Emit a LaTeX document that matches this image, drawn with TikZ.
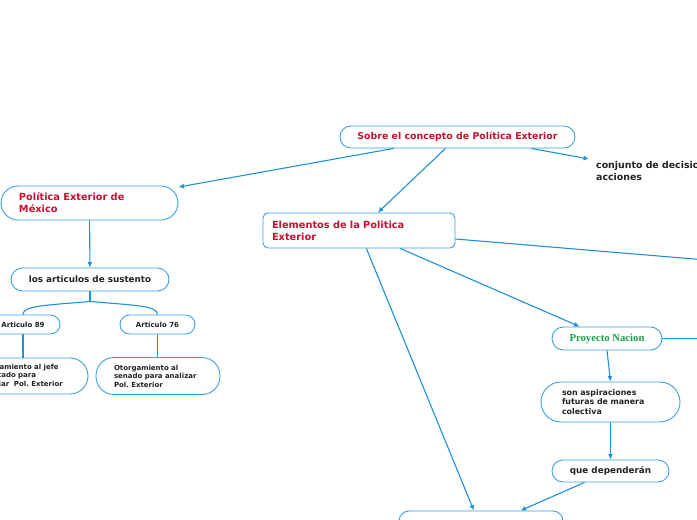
\documentclass[tikz,border=0pt]{standalone}
\usepackage{fontspec}
\setmainfont{DejaVu Sans}
\newfontfamily\nacfont{Liberation Serif}
\usetikzlibrary{arrows.meta}
\definecolor{boxblue}{HTML}{3C9FE2}
\definecolor{linkblue}{HTML}{1E91DB}
\definecolor{titlered}{HTML}{C8102E}
\definecolor{nacgreen}{HTML}{17A34A}
\definecolor{textgray}{HTML}{222222}
\frenchspacing

\begin{document}
\begin{tikzpicture}[x=1pt,y=-1pt,
  pill/.style={draw=boxblue,line width=0.9pt,fill=white,inner sep=0pt,rounded corners=#1},
  title/.style={text=titlered,font=\fontsize{9.8}{12}\selectfont\bfseries},
  mid/.style={text=textgray,font=\fontsize{8.8}{10.5}\selectfont\bfseries},
  small/.style={text=textgray,font=\fontsize{7}{8.5}\selectfont\bfseries},
  link/.style={draw=linkblue,line width=1.1pt},
  arrow/.style={link,-{Latex[length=5.5pt,width=5pt]}}]

\fill[white] (0,0) rectangle (697,520);
\useasboundingbox (0,0) rectangle (697,520);
\clip (0,0) rectangle (697,520);

\node[pill=11pt,minimum width=235pt,minimum height=22pt,text=titlered,font=\fontsize{9.4}{11}\selectfont\bfseries] (sobre) at (457.5,137) {Sobre el concepto de Política Exterior};
\node[anchor=north west,inner xsep=7pt,inner ysep=2pt,align=left,text=textgray,font=\fontsize{9.4}{12}\selectfont\bfseries] (conj) at (589,159) {conjunto de decisiones y\\acciones};

\node[pill=17pt,title,minimum height=34pt,text width=141pt,inner xsep=18pt,align=left] (pol) at (89.5,203) {Política Exterior de\\México};
\node[pill=5pt,title,minimum height=35pt,text width=174pt,inner xsep=9pt,align=left] (elem) at (359,230.5) {Elementos de la Politica\\Exterior};

\node[pill=11.5pt,mid,minimum width=158pt,minimum height=23pt] (art) at (90,279.5) {los articulos de sustento};
\node[pill=9.5pt,small,minimum width=74pt,minimum height=19pt] (a89) at (23,324.5) {Articulo 89};
\node[pill=9.5pt,small,minimum width=75pt,minimum height=19pt] (a76) at (157.5,324.5) {Articulo 76};
\node[pill=18pt,small,minimum height=36pt,text width=91pt,inner xsep=20pt,align=left] (d89) at (22.5,376) {Otorgamiento al jefe\\de estado para\\manejar\ \ Pol. Exterior};
\node[pill=18pt,small,minimum height=37pt,text width=88pt,inner xsep=18pt,align=left] (d76) at (158,376) {Otorgamiento al\\senado para analizar\\Pol. Exterior};

\node[pill=11.5pt,minimum width=110pt,minimum height=23pt,text=nacgreen,font=\nacfont\fontsize{10.7}{12}\selectfont\bfseries] (proy) at (607,338.5) {Proyecto Nacion};
\node[pill=20pt,text=textgray,font=\fontsize{7.9}{9.5}\selectfont\bfseries,minimum height=40pt,text width=97pt,inner xsep=21pt,align=left] (aspir) at (610.5,402) {son aspiraciones\\futuras de manera\\colectiva};
\node[pill=11pt,mid,minimum width=117pt,minimum height=22pt] (depend) at (610.5,471) {que dependerán};
\node[pill=10pt,minimum width=164pt,minimum height=34pt] (bajo) at (481,528) {};

\coordinate (derE) at (730,262);
\coordinate (derP) at (730,338.5);
\coordinate (fork) at ([yshift=-10pt]art.south);

\draw[arrow] (sobre) -- (pol);
\draw[arrow] (sobre) -- (elem);
\draw[arrow] ([xshift=74pt]sobre.south) -- (conj.north west);
\draw[link] ([yshift=-8.5pt]elem.east) -- (derE);
\draw[arrow] (elem) -- (proy);
\draw[arrow] (elem) -- (bajo);
\draw[link] (proy.east) -- (derP);
\draw[arrow] (proy.south) -- (aspir.north);
\draw[arrow] (aspir.south) -- (depend.north);
\draw[arrow] (depend) -- (bajo);

\draw[arrow] (pol) -- (art);
\draw[link] (art.south) -- (fork);
\draw[link] (fork) .. controls +(-45,4) and +(0,-9) .. (a89.north);
\draw[link] (fork) .. controls +(45,4) and +(0,-9) .. (a76.north);
\draw[link] (a89.south) -- (a89.south |- d89.north);
\draw[link] (a76.south) -- (a76.south |- d76.north);

\end{tikzpicture}
\end{document}
